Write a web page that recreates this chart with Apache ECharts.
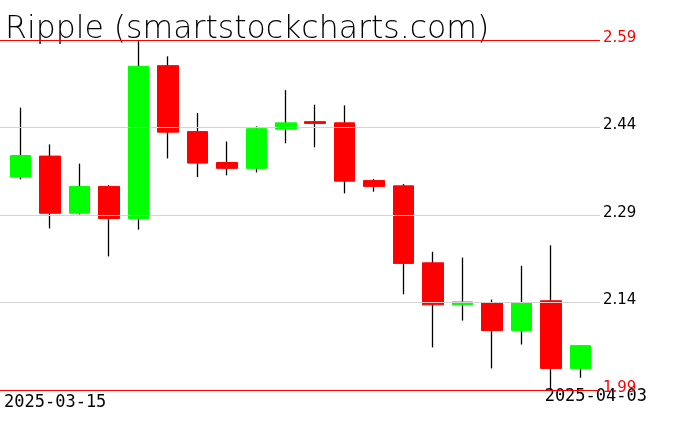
<!DOCTYPE html>
<html>
<head>
<meta charset="utf-8">
<script src="https://cdn.jsdelivr.net/npm/echarts@6/dist/echarts.min.js"></script>
<style>
html,body{margin:0;padding:0;background:#fff;}
#chart{width:676px;height:431px;}
</style>
</head>
<body>
<div id="chart"></div>
<script>
var titleText = 'Ripple (smartstockcharts.com)';
var dates = ['2025-03-15','2025-03-16','2025-03-17','2025-03-18','2025-03-19','2025-03-20','2025-03-21','2025-03-22','2025-03-23','2025-03-24','2025-03-25','2025-03-26','2025-03-27','2025-03-28','2025-03-29','2025-03-30','2025-03-31','2025-04-01','2025-04-02','2025-04-03'];
var openV  = [2.355, 2.391, 2.293, 2.339, 2.284, 2.546, 2.433, 2.380, 2.370, 2.437, 2.450, 2.448, 2.349, 2.340, 2.208, 2.136, 2.140, 2.092, 2.143, 2.027];
var closeV = [2.392, 2.293, 2.339, 2.284, 2.545, 2.432, 2.379, 2.370, 2.438, 2.448, 2.447, 2.348, 2.339, 2.207, 2.136, 2.141, 2.092, 2.140, 2.027, 2.066];
var lowV   = [2.351, 2.267, 2.291, 2.219, 2.265, 2.387, 2.355, 2.358, 2.363, 2.413, 2.406, 2.327, 2.330, 2.154, 2.063, 2.109, 2.027, 2.068, 1.990, 2.011];
var highV  = [2.474, 2.411, 2.378, 2.341, 2.590, 2.562, 2.465, 2.416, 2.442, 2.504, 2.479, 2.478, 2.352, 2.343, 2.227, 2.217, 2.145, 2.203, 2.238, 2.067];
var yMin = 1.99, yMax = 2.59, yStep = 0.15;

var wickData = dates.map(function(d, i){ return [openV[i], closeV[i], lowV[i], highV[i]]; });
var bodyData = dates.map(function(d, i){ return [openV[i], closeV[i], Math.min(openV[i], closeV[i]), Math.max(openV[i], closeV[i])]; });

var chart = echarts.init(document.getElementById('chart'));
chart.setOption({
  animation: false,
  backgroundColor: '#ffffff',
  title: {
    text: titleText,
    left: 5, top: 14, padding: 0,
    textStyle: { fontFamily: 'DejaVu Sans', fontSize: 31.5, fontWeight: 200, color: '#000' }
  },
  grid: [
    { left: 0, width: 600, top: 40, height: 350 },
    { left: 6, width: 589, top: 40, height: 350 }
  ],
  xAxis: [
    { type: 'value', gridIndex: 0, min: 0, max: 1, show: false },
    { type: 'category', gridIndex: 1, data: dates, boundaryGap: true, show: false }
  ],
  yAxis: [
    {
      type: 'value', gridIndex: 0, position: 'right', min: yMin, max: yMax, interval: yStep, z: 10,
      axisLine: { show: false }, axisTick: { show: false },
      splitLine: { show: true, lineStyle: { width: 1, color: ['#ff0000', '#d3d3d3', '#d3d3d3', '#d3d3d3', '#ff0000'] } },
      axisLabel: {
        margin: 3, fontFamily: 'DejaVu Sans', fontSize: 15, verticalAlign: 'bottom', lineHeight: 4,
        formatter: function(v){ return Number(v).toFixed(2); },
        color: function(v){ var n = Number(v); return (Math.abs(n - yMin) < 1e-6 || Math.abs(n - yMax) < 1e-6) ? '#ff0000' : '#000000'; }
      }
    },
    { type: 'value', gridIndex: 1, min: yMin, max: yMax, show: false }
  ],
  graphic: [
    { type: 'text', left: 4, top: 394, style: { text: dates[0], font: '17px "DejaVu Sans Mono"', fill: '#000' } },
    { type: 'text', right: 29, top: 388, style: { text: dates[dates.length - 1], font: '17px "DejaVu Sans Mono"', fill: '#000' } }
  ],
  series: [
    {
      type: 'candlestick', xAxisIndex: 1, yAxisIndex: 1, data: wickData, barWidth: 1, z: 2,
      itemStyle: { color: '#000', color0: '#000', borderColor: '#000', borderColor0: '#000', borderWidth: 1.3 }
    },
    {
      type: 'candlestick', xAxisIndex: 1, yAxisIndex: 1, data: bodyData, barWidth: 21, z: 3,
      itemStyle: { color: '#00ff00', color0: '#ff0000', borderColor: '#00ff00', borderColor0: '#ff0000', borderWidth: 1 }
    }
  ]
});
</script>
</body>
</html>
